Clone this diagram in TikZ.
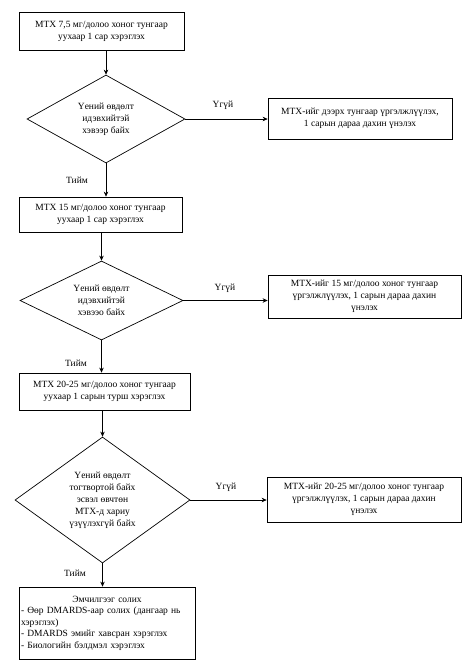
\documentclass[tikz,border=0pt]{standalone}
\usepackage{fontspec}
\setmainfont{Liberation Serif}
\usetikzlibrary{shapes.geometric,arrows.meta}
\tikzset{
  txt/.style={font=\fontsize{9.5}{12}\selectfont},
  box/.style={txt,draw,line width=0.7pt,rectangle,align=center,inner sep=1pt},
  dia/.style={txt,draw,line width=0.7pt,diamond,align=center,inner sep=0pt},
  arr/.style={line width=0.7pt,-{Stealth[length=5pt,width=4.5pt]}},
  lbl/.style={txt,inner sep=0pt}
}
\begin{document}
\begin{tikzpicture}[x=1pt,y=-1pt]
\useasboundingbox (0,0) rectangle (474,667);
\node[box,minimum width=165pt,minimum height=38pt] (b1) at (101.5,31) {МТХ 7,5 мг/долоо хоног тунгаар\\уухаар 1 сар хэрэглэх};
\node[dia,minimum width=158pt,minimum height=88pt,aspect=1.8] (d1) at (106,119) {Үений өвдөлт\\идэвхийтэй\\хэвээр байх};
\node[box,minimum width=184pt,minimum height=41pt] (b2) at (360,118.5) {МТХ-ийг дээрх тунгаар үргэлжлүүлэх,\\1 сарын дараа дахин үнэлэх};
\node[box,minimum width=163pt,minimum height=35pt] (b3) at (100.5,214.5) {МТХ 15 мг/долоо хоног тунгаар\\уухаар 1 сар хэрэглэх};
\node[dia,minimum width=163pt,minimum height=79pt,aspect=2.06] (d2) at (101.5,300.5) {Үений өвдөлт\\идэвхийтэй\\хэвээо байх};
\node[box,minimum width=193pt,minimum height=43pt] (b4) at (364.5,296.5) {МТХ-ийг 15 мг/долоо хоног тунгаар\\үргэлжлүүлэх, 1 сарын дараа дахин\\үнэлэх};
\node[box,minimum width=171pt,minimum height=37pt] (b5) at (104.5,391.5) {МТХ 20-25 мг/долоо хоног тунгаар\\уухаар 1 сарын турш хэрэглэх};
\node[dia,minimum width=175pt,minimum height=126pt,aspect=1.39] (d3) at (102.5,500) {Үений өвдөлт\\тогтвортой байх\\эсвэл өвчтөн\\МТХ-д хариу\\үзүүлэхгүй байх};
\node[box,minimum width=194pt,minimum height=45pt] (b6) at (364,499.5) {МТХ-ийг 20-25 мг/долоо хоног тунгаар\\үргэлжлүүлэх, 1 сарын дараа дахин\\үнэлэх};
\node[box,font=\fontsize{9.5}{11.5}\selectfont,align=left,text width=172pt,minimum width=176pt,minimum height=72pt,inner sep=2pt] (b7) at (107,623) {\makebox[172pt]{Эмчилгээг солих}\\- Өөр DMARDS-аар солих (дангаар нь\\хэрэглэх)\\- DMARDS эмийг хавсран хэрэглэх\\- Биологийн бэлдмэл хэрэглэх};
\node[lbl] (n1) at (223,105) {Үгүй};
\node[lbl] (n2) at (225,288) {Үгүй};
\node[lbl] (n3) at (226,487) {Үгүй};
\node[lbl] (y1) at (77,180) {Тийм};
\node[lbl] (y2) at (76,363) {Тийм};
\node[lbl] (y3) at (75,573) {Тийм};
\draw[arr] (b1.south -| d1.north) -- (d1.north);
\draw[arr] (d1.east) -- (d1.east -| b2.west);
\draw[arr] (d1.south) -- (d1.south |- b3.north);
\draw[arr] (b3.south -| d2.north) -- (d2.north);
\draw[arr] (d2.east) -- (d2.east -| b4.west);
\draw[arr] (d2.south) -- (d2.south |- b5.north);
\draw[arr] (b5.south -| d3.north) -- (d3.north);
\draw[arr] (d3.east) -- (d3.east -| b6.west);
\draw[arr] (d3.south) -- (d3.south |- b7.north);
\end{tikzpicture}
\end{document}
